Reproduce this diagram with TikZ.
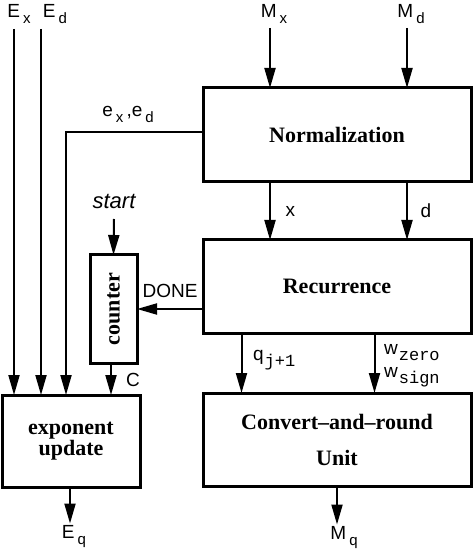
\documentclass[tikz,border=0pt]{standalone}
\usepackage{fontspec}
\setmainfont{Liberation Serif}
\setsansfont{Liberation Sans}
\setmonofont{Liberation Mono}
\usetikzlibrary{arrows.meta,positioning}

\newcommand{\sfsub}[1]{\kern1.5pt\raisebox{-3pt}{\fontsize{7.5}{8}\selectfont #1}}
\newcommand{\ttsub}[1]{\kern0.5pt\raisebox{-3pt}{\ttfamily\fontsize{8.5}{9}\selectfont #1}}

\begin{document}
\begin{tikzpicture}[
  x=0.5pt, y=-0.5pt,
  >={Triangle[length=10pt,width=5.5pt]},
  font=\sffamily\fontsize{9.5}{11}\selectfont,
  box/.style={draw, line width=1.5pt, outer sep=0pt, align=center,
              font=\rmfamily\bfseries\fontsize{11}{12}\selectfont},
  flow/.style={->, line width=1pt},
  sig/.style={inner sep=1pt}
]
  \useasboundingbox (0,0) rectangle (474,549);

  % main blocks
  \node[box, minimum width=134pt, minimum height=47pt] (norm) at (337,135) {Normalization};
  \node[box, minimum width=134pt, minimum height=46.5pt, below=29pt of norm] (recur) {Recurrence};
  \node[box, minimum width=134pt, minimum height=46.5pt, below=30pt of recur] (conv)
       {Convert--and--round\\[6pt]Unit};
  \node[box, minimum width=69pt, minimum height=46pt] (expo) at (71,441)
       {exponent\\[-1.5pt]update};
  \node[box, minimum width=23.5pt, minimum height=54pt, inner sep=0pt] (counter) at (113.5,309)
       {\rotatebox{90}{counter}};

  % signal labels
  \node[sig] (Ex) at (19,14) {E\sfsub{x}};
  \node[sig] (Ed) at (55,14) {E\sfsub{d}};
  \node[sig] (Mx) at (274,14) {M\sfsub{x}};
  \node[sig] (Md) at (411,14) {M\sfsub{d}};
  \node[sig] (exd) at (128,114) {e\sfsub{x}\,,e\sfsub{d}};
  \node[sig, font=\sffamily\itshape\fontsize{11}{12}\selectfont] (start) at (114,201) {start};
  \node[sig] (C) at (133,380) {C};
  \node[sig] (Eq) at (74,537) {E\sfsub{q}};
  \node[sig] (Mq) at (344,538) {M\sfsub{q}};
  \coordinate (exTop) at (14,29);
  \coordinate (edTop) at (41,29);
  \coordinate (mxTop) at (270,28);
  \coordinate (mdTop) at (407,28);

  % inputs
  \draw[flow] (mxTop) -- (mxTop |- norm.north);
  \draw[flow] (mdTop) -- (mdTop |- norm.north);
  \draw[flow] (exTop) -- (exTop |- expo.north);
  \draw[flow] (edTop) -- (edTop |- expo.north);
  \draw[flow] ([yshift=1.5pt]norm.west) -| ([xshift=-2.5pt]expo.north);

  % datapath
  \draw[flow] ([xshift=-33.5pt]norm.south) -- node[right=4pt] {x} ([xshift=-33.5pt]recur.north);
  \draw[flow] ([xshift=35pt]norm.south) -- node[right=3pt] {d} ([xshift=35pt]recur.north);
  \draw[flow] ([xshift=-47.75pt]recur.south) --
      node[right=2pt, pos=0.45] {q\ttsub{j+1}} ([xshift=-47.75pt]conv.north);
  \draw[flow] ([xshift=18.75pt]recur.south) -- ([xshift=18.75pt]conv.north)
      node[pos=0.55, right=1pt, align=left, font=\sffamily\fontsize{9.5}{11.5}\selectfont]
      {w\ttsub{zero}\\w\ttsub{sign}};

  % control
  \draw[flow] (start.south |- 0,219) -- (counter.north);
  \draw[flow] (recur.west |- counter.east) -- node[above=2pt] {DONE} (counter.east);
  \draw[flow] ([xshift=-1.25pt]counter.south) -- ([xshift=-1.25pt]counter.south |- expo.north);

  % outputs
  \draw[flow] ([xshift=-0.5pt]expo.south) -- ([xshift=-0.5pt]expo.south |- Eq.north);
  \draw[flow] (conv.south) -- (conv.south |- Mq.north);
\end{tikzpicture}
\end{document}
